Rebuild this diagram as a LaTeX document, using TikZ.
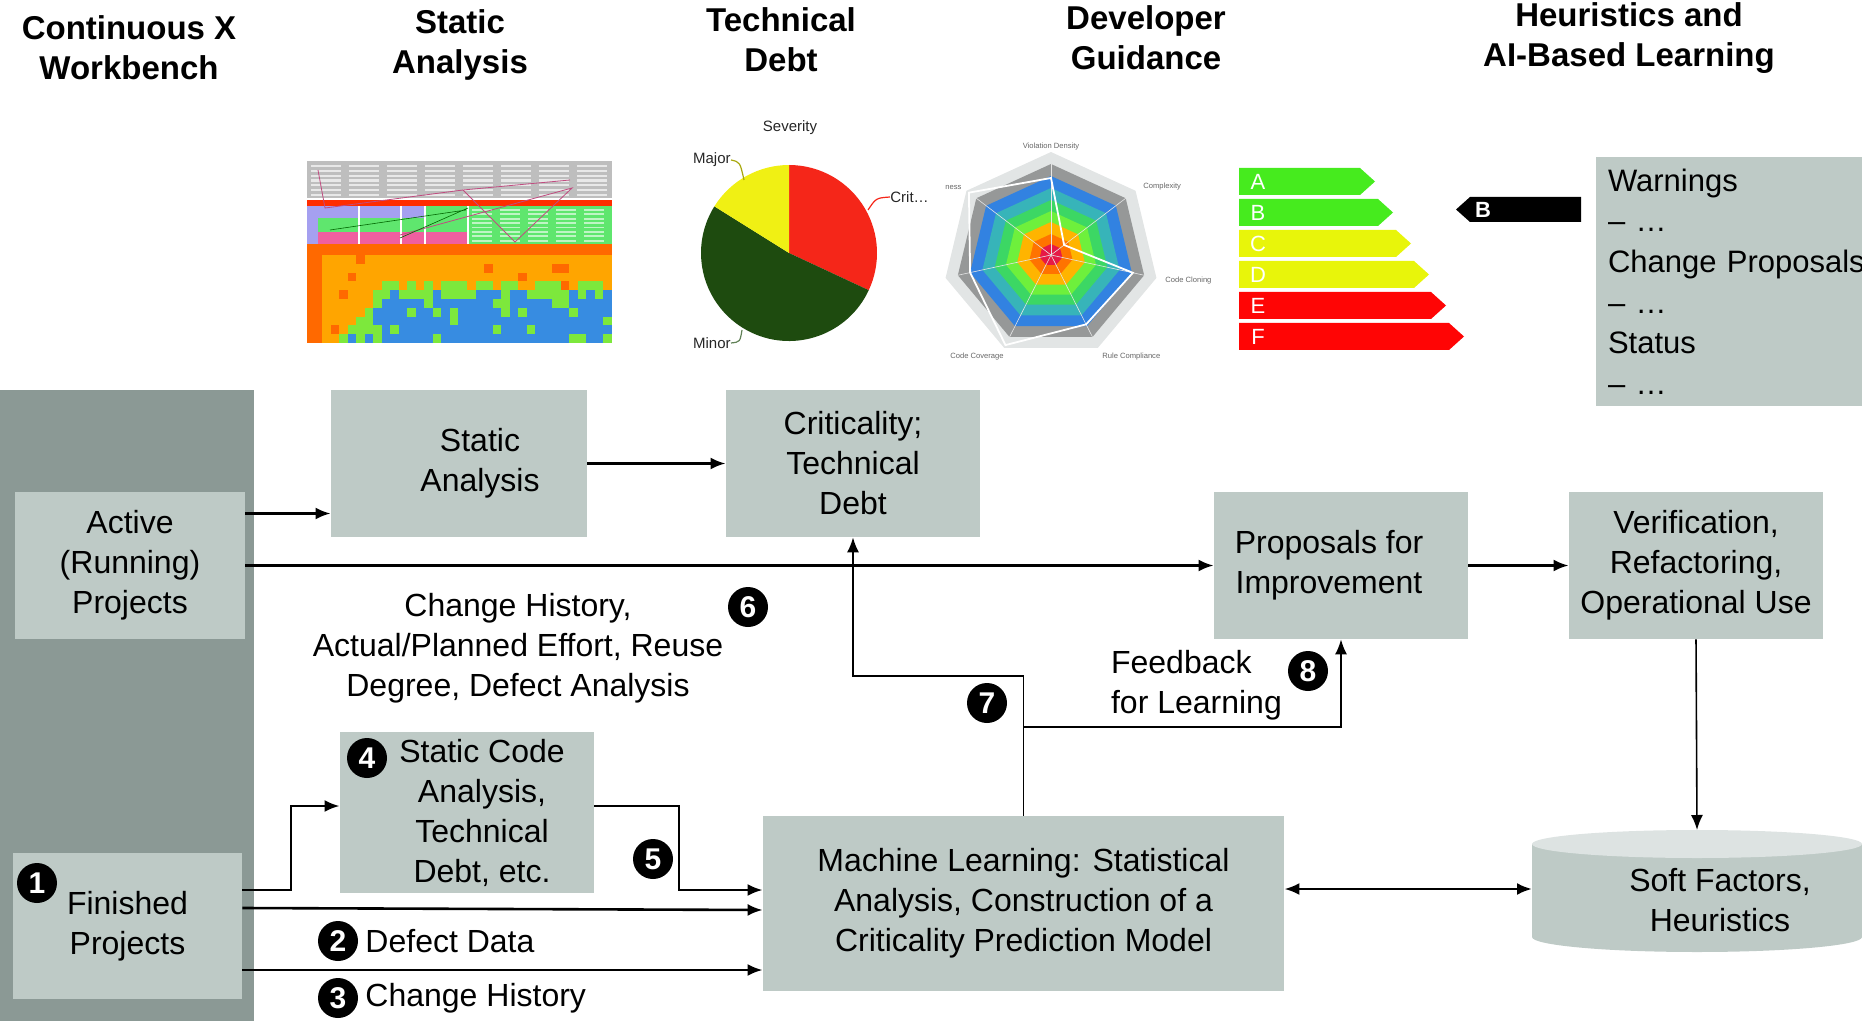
\documentclass[tikz,border=0pt]{standalone}
\usepackage{fontspec}
\setmainfont{Liberation Sans}
\usetikzlibrary{arrows.meta}
\definecolor{panel}{RGB}{139,153,149}
\definecolor{boxfill}{RGB}{190,202,198}
\definecolor{cyltop}{RGB}{221,227,226}
\definecolor{hmgray}{RGB}{190,190,190}
\definecolor{hmred}{RGB}{255,45,0}
\definecolor{hmpurple}{RGB}{165,160,240}
\definecolor{hmgreen}{RGB}{95,230,110}
\definecolor{hmpink}{RGB}{240,95,160}
\definecolor{hmorange}{RGB}{255,165,0}
\definecolor{hmdark}{RGB}{255,105,0}
\definecolor{hmlime}{RGB}{125,232,60}
\definecolor{hmblue}{RGB}{55,140,225}
\definecolor{piered}{RGB}{245,38,25}
\definecolor{piegreen}{RGB}{30,75,15}
\definecolor{pieyellow}{RGB}{240,240,20}
\definecolor{rgl}{RGB}{226,229,229}
\definecolor{rgd}{RGB}{150,152,152}
\definecolor{rblue}{RGB}{50,130,225}
\definecolor{rteal}{RGB}{55,180,185}
\definecolor{rgreen}{RGB}{60,215,100}
\definecolor{rlime}{RGB}{110,240,60}
\definecolor{rorange}{RGB}{255,180,0}
\definecolor{rdorange}{RGB}{255,115,0}
\definecolor{rred}{RGB}{230,25,70}
\definecolor{elgreen}{RGB}{70,235,30}
\definecolor{elyellow}{RGB}{232,245,10}
\definecolor{elred}{RGB}{255,5,5}

\begin{document}
\begin{tikzpicture}[x=0.5pt, y=-0.5pt,
	box/.style={fill=boxfill, inner sep=0pt, align=center, font=\fontsize{16}{20}\selectfont},
	lbl/.style={font=\fontsize{16}{20}\selectfont},
	head/.style={align=center, font=\bfseries\fontsize{16.5}{20}\selectfont},
	num/.style={circle, fill=black, text=white, inner sep=0pt, minimum size=20pt, font=\bfseries\fontsize{15}{15}\selectfont},
	arr/.style={-{Latex[length=7.5pt,width=6pt]}, line width=1.3pt},
	thinarr/.style={-{Latex[length=7.5pt,width=6pt]}, line width=0.8pt},
	rlbl/.style={inner sep=0pt, text=black!60, font=\fontsize{3.8}{4}\selectfont},
	plbl/.style={inner sep=0pt, text=black!85, font=\fontsize{7.5}{8}\selectfont},
	elbl/.style={inner sep=0pt, text=white, font=\fontsize{11}{11}\selectfont}]
	\useasboundingbox (0,0) rectangle (1862,1021);

	% column heads
	\node[head] (hwork) at (129,48) {Continuous X\\Workbench};
	\node[head] (hstat) at (460,45) {Static\\Analysis};
	\node[head] (hdebt) at (781,40) {Technical\\Debt};
	\node[head] (hguide) at (1146,38) {Developer\\Guidance};
	\node[head] (hlearn) at (1629,38) {Heuristics and\\AI-Based Learning};

	% heat map
	\fill[hmgray] (307,161) rectangle (612,198);
	\foreach \i in {0,...,6} \foreach \j in {0,...,7}
		\fill[white!65!hmgray] ({311+\j*38},{165+\i*4.8}) rectangle +(30,2.2);
	\fill[hmred] (307,200) rectangle (612,206);
	\fill[hmpurple] (307,206) rectangle (318,244);
	\fill[hmpurple] (318,206) rectangle (425,218);
	\fill[hmgreen] (318,218) rectangle (425,232);
	\fill[hmpink] (318,232) rectangle (468,244);
	\fill[hmgreen] (425,206) rectangle (612,232);
	\fill[hmgreen] (468,232) rectangle (612,244);
	\foreach \xx in {359,401,425,468} \draw[white, line width=0.6pt] (\xx,206) -- (\xx,244);
	\foreach \i in {0,...,7} \foreach \j in {0,...,4}
		\fill[white!60!hmgreen] ({472+\j*28},{209+\i*4.4}) rectangle +(20,1.8);
	\draw[hmpink!80!black, line width=0.4pt] (318,170) -- (325,208) -- (463,190) -- (570,180);
	\draw[hmpink!80!black, line width=0.4pt] (463,190) -- (515,242) -- (572,188) -- (400,235);
	\draw[green!40!black, line width=0.3pt] (400,238) -- (468,208) (330,230) -- (466,210);
	\fill[hmorange] (322,255) rectangle (612,343);
	\fill[hmdark] (307,244) rectangle (612,255);
	\fill[hmdark] (307,244) rectangle (322,343);
	\pgfmathsetseed{4}
	\foreach \c in {0,...,33}{
		\foreach \r in {0,...,9}{
			\pgfmathsetmacro\tv{\r-3.5+1.5*rnd-(\c<7)*(7-\c)*1.3}
			\pgfmathsetmacro\sv{rnd}
			\pgfmathtruncatemacro\kv{(\tv<0) ? ((\sv<0.06) ? 3 : 0) : ((\tv<1) ? 1 : ((\sv<0.16) ? 1 : 2))}
			\ifcase\kv\relax
			\or \fill[hmlime] ({322+\c*8.53},{255+\r*8.8}) rectangle +(8.53,8.8);
			\or \fill[hmblue] ({322+\c*8.53},{255+\r*8.8}) rectangle +(8.53,8.8);
			\or \fill[hmdark] ({322+\c*8.53},{255+\r*8.8}) rectangle +(8.53,8.8);
			\fi
		}
	}

	% pie
	\begin{scope}[shift={(789,253)}, yscale=-1]
		\fill[piered] (0,0) -- (90:88) arc[start angle=90, end angle=-25, radius=88] -- cycle;
		\fill[piegreen] (0,0) -- (-25:88) arc[start angle=-25, end angle=-212, radius=88] -- cycle;
		\fill[pieyellow] (0,0) -- (148:88) arc[start angle=148, end angle=90, radius=88] -- cycle;
	\end{scope}
	\node[plbl] (sev) at (790,128) {Severity};
	\node[plbl, anchor=east] (major) at (731,160) {Major};
	\node[plbl, anchor=west] (crit) at (890,197) {Crit…};
	\node[plbl, anchor=east] (minor) at (731,343) {Minor};
	\draw[pieyellow!70!black, line width=0.6pt] (major.east) .. controls (740,162) .. (744,180);
	\draw[piered, line width=0.6pt] (crit.west) .. controls (876,198) .. (868,210);
	\draw[piegreen!70, line width=0.6pt] (minor.east) .. controls (740,342) .. (742,330);

	% radar
	\begin{scope}[shift={(1051,255)}, yscale=-1, xscale=1.05]
		\foreach \rr/\cc in {103/rgl, 91/rgd, 79/rblue, 67/rteal, 55/rgreen, 44/rlime, 33/rorange, 21/rdorange, 11/rred}
			\fill[\cc] (90:\rr) foreach \k in {1,...,6}{ -- ({90-\k*360/7}:\rr) } -- cycle;
		\foreach \k in {0,...,6}
			\draw[white!80!gray, line width=0.3pt] (0,0) -- ({90-\k*360/7}:91);
		\draw[white, line width=0.9pt] (90:77) -- ({90-360/7}:16) -- ({90-2*360/7}:80)
			-- ({90-3*360/7}:77) -- ({90-4*360/7}:100) -- ({90-5*360/7}:79) -- ({90-6*360/7}:100) -- cycle;
	\end{scope}
	\node[rlbl, anchor=south] (rvio) at (1051,150) {Violation Density};
	\node[rlbl, anchor=west] (rcom) at (1143,187) {Complexity};
	\node[rlbl, anchor=west] (rclo) at (1165,281) {Code Cloning};
	\node[rlbl, anchor=west] (rrul) at (1102,357) {Rule Compliance};
	\node[rlbl, anchor=west] (rcov) at (950,357) {Code Coverage};
	\node[rlbl, anchor=west] (rness) at (945,187) {ness};

	% energy label
	\foreach \l/\yy/\tp/\cc in {A/168/1375/elgreen, B/199/1393/elgreen, C/230/1411/elyellow, D/261/1429/elyellow, E/292/1446/elred, F/323/1464/elred}{
		\fill[\cc] (1239,\yy) -- ({\tp-15},\yy) -- (\tp,{\yy+13.5}) -- ({\tp-15},{\yy+27}) -- (1239,{\yy+27}) -- cycle;
		\node[elbl] (el\l) at (1258,{\yy+13.5}) {\l};
	}
	\fill[black] (1456,209.5) -- (1470,197) -- (1581,197) -- (1581,222) -- (1470,222) -- cycle;
	\node[elbl, font=\bfseries\fontsize{11}{11}\selectfont] (mark) at (1483,209.5) {B};

	\node[box, minimum width=152pt, minimum height=124.5pt, text width=140pt, align=left, font=\fontsize{15.5}{20.3}\selectfont] (warn) at (1748,281.5)
		{Warnings\\– …\\Change Proposals\\– …\\Status\\– …};

	% workbench
	\fill[panel] (0,390) rectangle (254,1021);
	\node[box, minimum width=115pt, minimum height=73.5pt] (active) at (130,565.5) {Active\\(Running)\\Projects};
	\node[box, minimum width=114.5pt, minimum height=73pt] (fin) at (127.5,926) {Finished\\Projects};
	\node[box, minimum width=128pt, minimum height=73.5pt, label={[lbl, align=center, xshift=10.5pt]center:{Static\\Analysis}}] (static) at (459,463.5) {};
	\node[box, minimum width=127pt, minimum height=73.5pt] (crit) at (853,463.5) {Criticality;\\Technical\\Debt};
	\node[box, minimum width=127pt, minimum height=73.5pt, label={[lbl, align=center, xshift=-6pt]center:{Proposals for\\Improvement}}] (prop) at (1341,565.5) {};
	\node[box, minimum width=127pt, minimum height=73.5pt] (verif) at (1696,565.5) {Verification,\\Refactoring,\\Operational Use};
	\node[box, minimum width=127pt, minimum height=80.5pt, label={[lbl, align=center, xshift=7.5pt]center:{Static Code\\Analysis,\\Technical\\Debt, etc.}}] (code) at (467,812.5) {};
	\node[box, minimum width=260.5pt, minimum height=87.5pt] (ml) at (1023.5,903.5) {Machine Learning: Statistical\\Analysis, Construction of a\\Criticality Prediction Model};

	% soft factors
	\fill[boxfill] (1532,844) -- (1532,937) arc[start angle=180, end angle=0, x radius=165, y radius=15] -- (1862,844) -- cycle;
	\fill[cyltop] (1697,844) ellipse[x radius=165, y radius=14];
	\coordinate (softtop) at (1697,830);
	\coordinate (softleft) at (1532,889);
	\node[lbl, align=center] (soft) at (1720,900) {Soft Factors,\\Heuristics};

	\node[lbl, align=center] (hist) at (518,648) {Change History,\\Actual/Planned Effort, Reuse\\Degree, Defect Analysis};
	\node[lbl, align=left, anchor=west] (fb) at (1104,685) {Feedback\\for Learning};

	\coordinate (k1) at (291,890);
	\coordinate (k2) at (679,890);
	\coordinate (k7) at (853,676);
	\coordinate (k8) at (1023.5,727);

	\draw[arr] ([yshift=26pt]active.east) -- ([yshift=26pt]active.east -| static.west);
	\draw[arr] (static.east) -- (crit.west);
	\draw[arr] (active.east) -- (prop.west);
	\draw[arr] (prop.east) -- (verif.west);
	\draw[thinarr] (verif.south) -- (softtop);
	\draw[arr, {Latex[length=7.5pt,width=6pt]}-{Latex[length=7.5pt,width=6pt]}] (ml.east |- softleft) -- (softleft);
	\draw[thinarr] (ml.north) |- (k7) -- (crit.south);
	\draw[thinarr] (k8) -| (prop.south);
	\draw[arr] (fin.east |- k1) -- (k1) |- ([yshift=3.25pt]code.west);
	\draw[arr] ([yshift=3.25pt]code.east) -| (k2) -- (k2 -| ml.west);
	\draw[arr] ([yshift=9pt]fin.east) -- ([yshift=8pt]fin.east -| ml.west);
	\draw[arr] ([yshift=-22pt]fin.east) -- ([yshift=-22pt]fin.east -| ml.west);

	\node[num] (n1) at (37,883) {1};
	\node[num] (n2) at (338,941) {2};
	\node[num] (n3) at (338,998) {3};
	\node[num] (n4) at (367,758) {4};
	\node[num] (n5) at (653,859) {5};
	\node[num] (n6) at (748,607) {6};
	\node[num] (n7) at (987,703) {7};
	\node[num] (n8) at (1308,671) {8};
	\node[lbl, anchor=west] (defect) at (n2.east) {Defect Data};
	\node[lbl, anchor=west] (chist) at (n3.east) {Change History};
\end{tikzpicture}
\end{document}
